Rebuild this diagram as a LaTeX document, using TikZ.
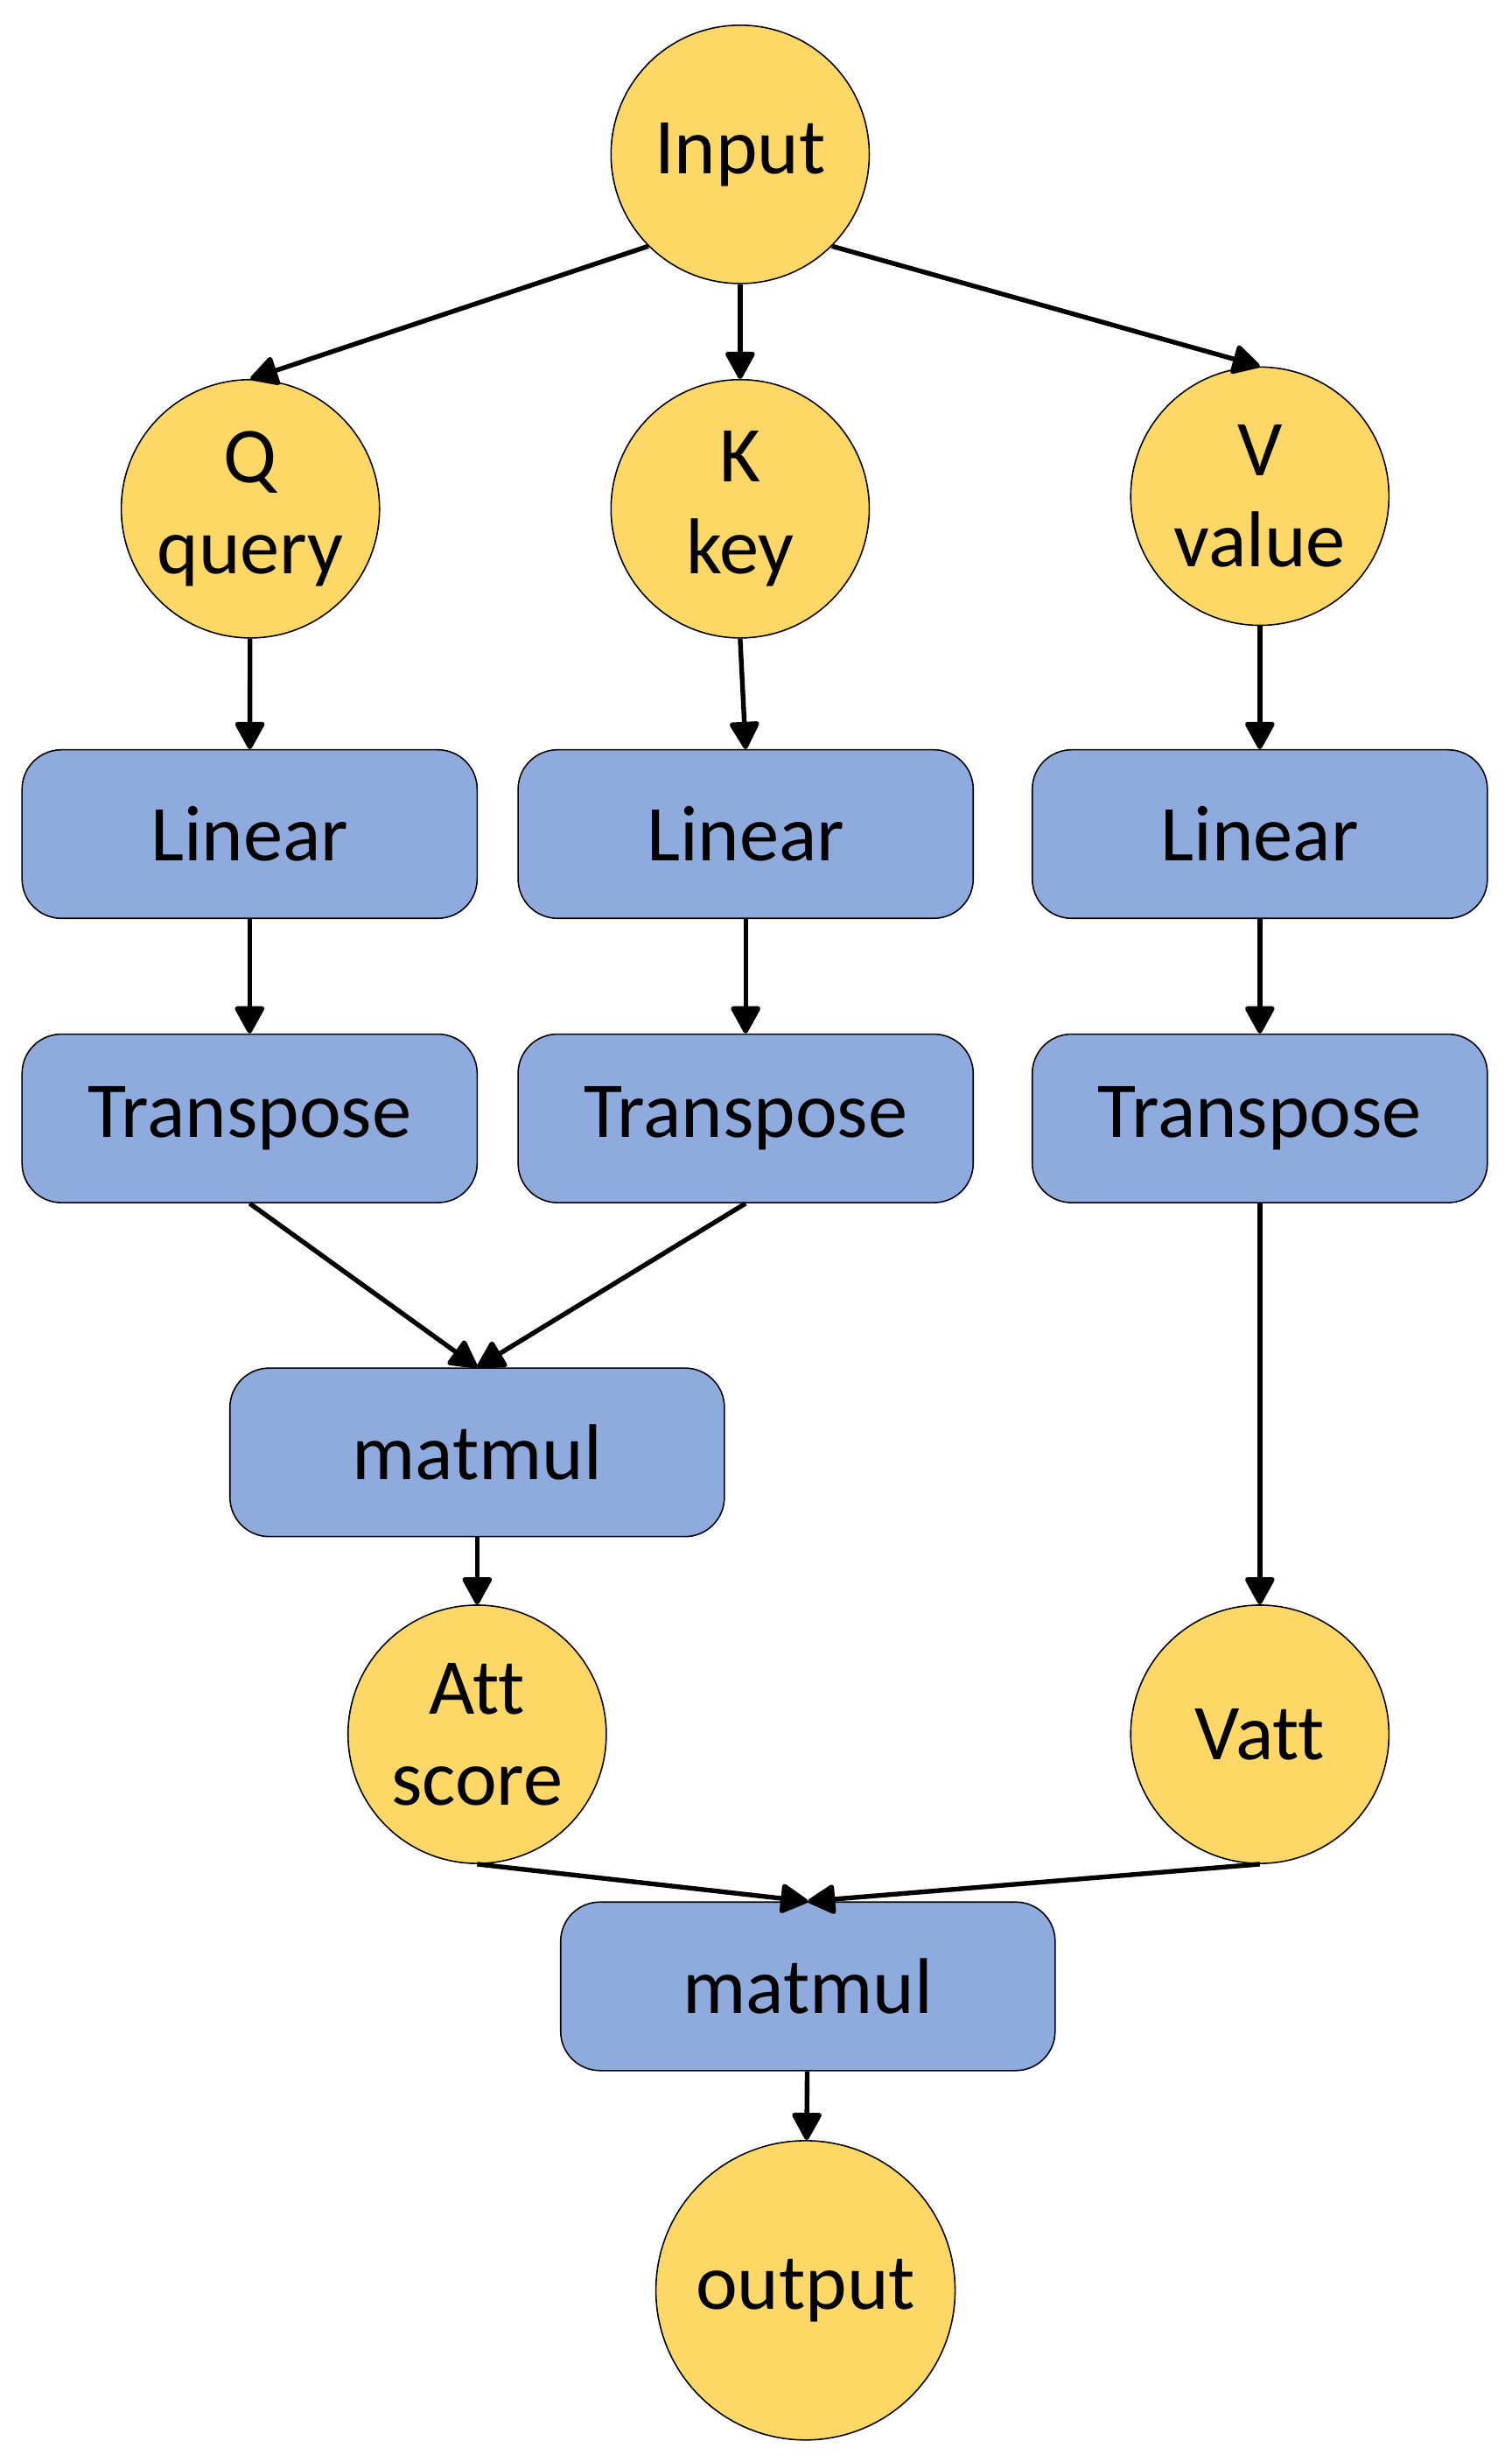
\documentclass[tikz,border=0pt]{standalone}
\usepackage{fontspec}
\setmainfont[Ligatures=NoCommon]{Carlito}
\usepackage{tikz}
\usetikzlibrary{arrows.meta}
\definecolor{gold}{HTML}{FDD866}
\definecolor{steel}{HTML}{8FAADC}

\begin{document}
\begin{tikzpicture}[
    circ/.style={circle,draw,line width=0.5pt,fill=gold,minimum size=3.28cm,inner sep=0pt,
      align=center,font=\fontsize{28.6}{33}\selectfont},
    blk/.style={rectangle,draw,line width=0.5pt,fill=steel,rounded corners=0.5cm,
      minimum width=5.78cm,minimum height=2.14cm,font=\fontsize{28.6}{33}\selectfont},
    flow/.style={line width=1.7pt,-{Triangle[length=0.38cm,width=0.4cm,round]}}]
        \useasboundingbox (0,0) rectangle (19.2,-31.26);

        \node[circ] (In) at (9.4, -1.96) {Input};

        \node[circ] (Q) at (3.18, -6.46) {Q\\query};
        \node[circ] (K) at (9.4, -6.46) {K\\key};
        \node[circ] (V) at (16.0, -6.3) {V\\value};

        \draw[flow] (In.south west) to (Q.north);
        \draw[flow] (In.south) to (K.north);
        \draw[flow] (In.south east) to (V.north);

        \node[blk] (lq) at (3.17, -10.59) {Linear};
        \node[blk] (lk) at (9.47, -10.59) {Linear};
        \node[blk] (lv) at (16.0, -10.59) {Linear};
        \draw[flow] (Q) to (lq);
        \draw[flow] (K.south) to (lk.north);
        \draw[flow] (V) to (lv);

        \node[blk] (tq) at (3.17, -14.2) {Transpose};
        \node[blk] (tk) at (9.47, -14.2) {Transpose};
        \node[blk] (tv) at (16.0, -14.2) {Transpose};
        \draw[flow] (lq) to (tq);
        \draw[flow] (lk) to (tk);
        \draw[flow] (lv) to (tv);

        \node[blk,minimum width=6.28cm] (mm) at (6.06, -18.44) {matmul};
        \draw[flow] (tq.south) to (mm.north);
        \draw[flow] (tk.south) to (mm.north);

        \node[circ] (att) at (6.06, -22.02) {Att\\score};
        \node[circ] (vatt) at (16.0, -22.02) {Vatt};
        \draw[flow] (mm) to (att);
        \draw[flow] (tv) to (vatt);

        \node[blk,minimum width=6.28cm] (mm') at (10.26, -25.22) {matmul};
        \draw[flow] (att.south) to (mm'.north);
        \draw[flow] (vatt.south) to (mm'.north);

        \node[circ,minimum size=3.8cm] (out) at (10.23, -29.08) {output};
        \draw[flow] (mm') to (out);
      \end{tikzpicture}
\end{document}
